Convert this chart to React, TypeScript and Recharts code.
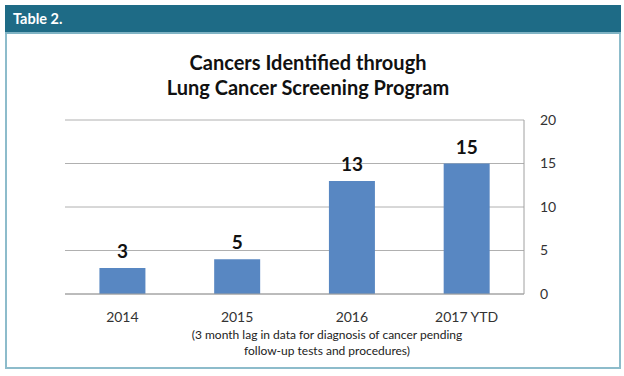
import React from "react";
import { BarChart, Bar, XAxis, YAxis, CartesianGrid, LabelList } from "recharts";

const categories = ["2014", "2015", "2016", "2017 YTD"];
const barValues = [3, 4, 13, 15];
const labelValues = ["3", "5", "13", "15"];
const yTicks = [0, 5, 10, 15, 20];

const data = categories.map((c, i) => ({ name: c, value: barValues[i], label: labelValues[i] }));

const FONT = "Lato, 'Open Sans', sans-serif";

const renderLabel = (props: any) => {
  const { x, y, width, index } = props;
  return (
    <text
      x={x + width / 2}
      y={y - 10}
      textAnchor="middle"
      fontFamily={FONT}
      fontWeight={700}
      fontSize={19}
      fill="#111"
    >
      {labelValues[index]}
    </text>
  );
};

export default function App() {
  return (
    <div style={{ position: "absolute", left: 0, top: 0, width: 624, height: 376, background: "#fff", fontFamily: FONT }}>
      <div
        style={{
          position: "absolute",
          left: 5,
          top: 5,
          width: 612,
          height: 362,
          border: "2px solid #8dbccb",
          borderTop: "none",
          boxSizing: "content-box",
        }}
      />
      <div
        style={{
          position: "absolute",
          left: 5,
          top: 5,
          width: 616,
          height: 27,
          background: "#1e6b86",
          borderBottom: "2px solid #7fb3c4",
        }}
      >
        <span style={{ position: "absolute", left: 8, top: 5, color: "#fff", fontWeight: 700, fontSize: 14.5 }}>Table 2.</span>
      </div>
      <div
        style={{
          position: "absolute",
          left: 0,
          width: 624,
          top: 50,
          textAlign: "center",
          fontWeight: 700,
          fontSize: 20,
          lineHeight: "25px",
          color: "#111",
        }}
      >
        <div style={{ position: "relative", left: -4 }}>Cancers Identified through</div>
        <div style={{ position: "relative", left: -4 }}>Lung Cancer Screening Program</div>
      </div>
      <div style={{ position: "absolute", left: 0, top: 0 }}>
        <BarChart width={624} height={376} data={data} margin={{ top: 120, right: 40, left: 65, bottom: 52 }} barCategoryGap="30%">
          <CartesianGrid vertical={false} stroke="#b0b0b0" />
          <XAxis
            dataKey="name"
            axisLine={{ stroke: "#a0a0a0" }}
            tickLine={false}
            height={30}
            tick={{ fontFamily: FONT, fontSize: 14, fill: "#333" }}
            tickMargin={12}
          />
          <YAxis
            orientation="right"
            domain={[0, 20]}
            ticks={yTicks}
            width={60}
            axisLine={{ stroke: "#a0a0a0" }}
            tickLine={false}
            tickMargin={10}
            tick={{ fontFamily: FONT, fontSize: 14, fill: "#333" }}
          />
          <Bar dataKey="value" fill="#5887c2" isAnimationActive={false}>
            <LabelList dataKey="label" content={renderLabel} />
          </Bar>
        </BarChart>
      </div>
      <div
        style={{
          position: "absolute",
          left: 0,
          width: 654,
          top: 327,
          textAlign: "center",
          fontSize: 12,
          lineHeight: "16px",
          color: "#222",
        }}
      >
        <div>(3 month lag in data for diagnosis of cancer pending</div>
        <div>follow-up tests and procedures)</div>
      </div>
    </div>
  );
}
